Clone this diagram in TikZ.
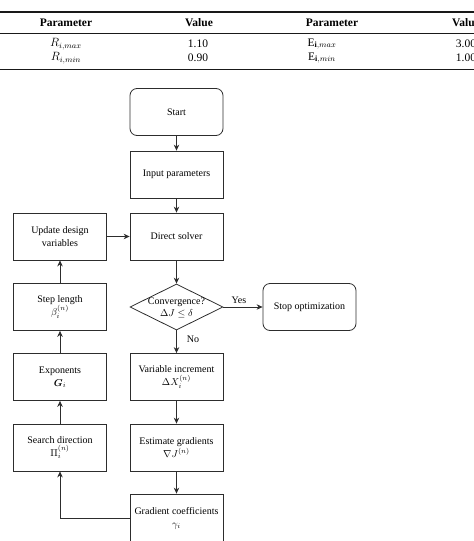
\documentclass[tikz,border=0pt]{standalone}
\usepackage{fontspec}
\usepackage{bm}
\setmainfont{Liberation Serif}
\usetikzlibrary{arrows.meta,shapes.geometric}

\tikzset{
  proc/.style={draw=fc_line,line width=0.8pt,minimum width=93pt,minimum height=47pt,
    align=center,inner sep=2pt,font=\fontsize{10}{13}\selectfont},
  term/.style={proc,rounded corners=7pt},
  decision/.style={diamond,draw=fc_line,line width=0.8pt,minimum width=93pt,
    minimum height=46pt,inner sep=0pt},
  flow/.style={draw=fc_line,line width=0.8pt,->,>={Stealth[length=6pt,width=5.5pt]}},
  lbl/.style={font=\fontsize{10}{12}\selectfont,inner sep=0pt,align=center},
  thead/.style={font=\fontsize{11.5}{13}\selectfont\bfseries,inner sep=0pt},
  tcell/.style={font=\fontsize{11.5}{13}\selectfont,inner sep=0pt},
}

\begin{document}
\begin{tikzpicture}[x=1pt,y=-1pt]
% ------------------------------------------------ colors
\definecolor{fc_line}{RGB}{45,45,45}   %#2D2D2D
\definecolor{tb_rule}{RGB}{25,25,25}   %#191919

\useasboundingbox (0,0) rectangle (474,541);

% ------------------------------------------------ table
\draw [line width=1.4pt,color=tb_rule] (0,12) -- (474,12);
\draw [line width=0.6pt,color=tb_rule] (0,33) -- (474,33);
\draw [line width=1.4pt,color=tb_rule] (0,69.5) -- (474,69.5);

\node[thead] (hpar1) at (66,23)  {Parameter};
\node[thead] (hval1) at (199,23) {Value};
\node[thead] (hpar2) at (332,23) {Parameter};
\node[thead] (hval2) at (466,23) {Value};

\node[tcell] (rmax) at (66,44)  {$R_{i,max}$};
\node[tcell] (rmin) at (66,58)  {$R_{i,min}$};
\node[tcell] (vrmax) at (198,44) {1.10};
\node[tcell] (vrmin) at (198,58) {0.90};
\node[tcell] (emax) at (322,44) {$\mathrm{E}_{\mathbf{i},max}$};
\node[tcell] (emin) at (322,58) {$\mathrm{E}_{\mathbf{i},min}$};
\node[tcell] (vemax) at (466,44) {3.00};
\node[tcell] (vemin) at (466,58) {1.00};

% ------------------------------------------------ main column
\node[term] (start)  at (176.5,112)   {Start};
\node[proc] (input)  at (176.5,174.5) {Input parameters};
\node[proc] (solver) at (176.5,236.5) {Direct solver};
\node[decision] (conv) at (176.5,307) {};
\node[lbl] (convtxt) at (176.5,308)   {Convergence?\\$\Delta J \leq \delta$};
\node[term] (stop)   at (309.5,307)   {Stop optimization};
\node[proc] (incr)   at (176.5,377)   {Variable increment\\$\Delta X_i^{(n)}$};
\node[proc] (grads)  at (176.5,447.5) {Estimate gradients\\$\nabla J^{(n)}$};
\node[proc,minimum height=48pt] (coef) at (176.5,518) {Gradient coefficients\\$\gamma_i$};

% ------------------------------------------------ update column
\node[proc] (update)  at (60,236.5) {Update design\\variables};
\node[proc] (steplen) at (60,307)   {Step length\\$\beta_i^{(n)}$};
\node[proc] (expo)    at (60,377)   {Exponents\\$\bm{G}_i$};
\node[proc] (search)  at (60,447.5) {Search direction\\$\Pi_i^{(n)}$};

% ------------------------------------------------ connectors
\draw[flow] (start) -- (input);
\draw[flow] (input) -- (solver);
\draw[flow] (solver) -- (conv);
\draw[flow] (conv) -- (stop);
\draw[flow] (conv) -- (incr);
\draw[flow] (incr) -- (grads);
\draw[flow] (grads) -- (coef);
\draw[flow] (coef.west) -| (search.south);
\draw[flow] (search) -- (expo);
\draw[flow] (expo) -- (steplen);
\draw[flow] (steplen) -- (update);
\draw[flow] (update) -- (solver);

\node[lbl] (yes) at (239,300) {Yes};
\node[lbl] (no)  at (193,339) {No};

\end{tikzpicture}
\end{document}
